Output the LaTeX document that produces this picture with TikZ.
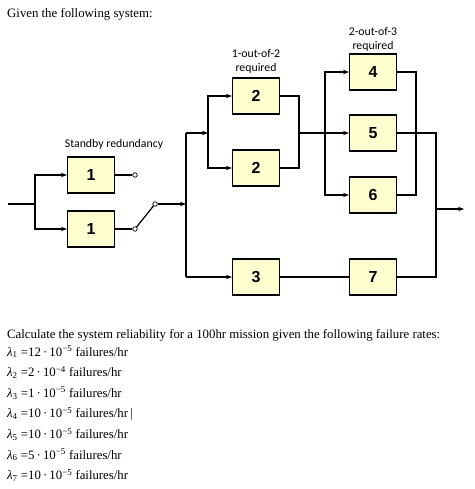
\documentclass[tikz,border=0pt]{standalone}
\usepackage{fontspec}
\setmainfont{Liberation Serif}
\newfontfamily\calfont{Carlito}
\newfontfamily\arialfont{Liberation Sans}
\usetikzlibrary{arrows.meta}
\definecolor{boxfill}{RGB}{255,255,208}
\begin{document}
\begin{tikzpicture}[x=1pt,y=-1pt,
  blk/.style={draw, line width=1.1pt, fill=boxfill, minimum width=47pt, minimum height=36pt, inner sep=0pt, font=\arialfont\bfseries\fontsize{16}{16}\selectfont},
  wire/.style={line width=1.2pt},
  arr/.style={wire, -{Stealth[length=6pt,width=4.5pt]}},
  sw/.style={circle, draw, line width=0.7pt, fill=white, minimum size=4.5pt, inner sep=0pt},
  lbl/.style={font=\calfont\fontsize{11.8}{14}\selectfont, align=center, inner sep=0pt},
  txt/.style={anchor=base west, inner sep=0pt, font=\fontsize{12.8}{14}\selectfont}]
\useasboundingbox (0,0) rectangle (474,489);
% text
\node[txt] (title) at (7,18) {Given the following system:};
\node[txt] (calc) at (7,338) {Calculate the system reliability for a 100hr mission given the following failure rates:};
\node[txt] (r1) at (7,356) {{\itshape λ}\textsubscript{1} =12\,·\,10\textsuperscript{−5} failures/hr};
\node[txt] (r2) at (7,376.6) {{\itshape λ}\textsubscript{2} =2\,·\,10\textsuperscript{−4} failures/hr};
\node[txt] (r3) at (7,397.2) {{\itshape λ}\textsubscript{3} =1\,·\,10\textsuperscript{−5} failures/hr};
\node[txt] (r4) at (7,417.8) {{\itshape λ}\textsubscript{4} =10\,·\,10\textsuperscript{−5} failures/hr\,|};
\node[txt] (r5) at (7,438.4) {{\itshape λ}\textsubscript{5} =10\,·\,10\textsuperscript{−5} failures/hr};
\node[txt] (r6) at (7,459) {{\itshape λ}\textsubscript{6} =5\,·\,10\textsuperscript{−5} failures/hr};
\node[txt] (r7) at (7,479.6) {{\itshape λ}\textsubscript{7} =10\,·\,10\textsuperscript{−5} failures/hr};
% labels
\node[lbl] (sr) at (114,144) {Standby redundancy};
\node[lbl] (l12) at (256,61) {1-out-of-2\\required};
\node[lbl] (l23) at (373,39) {2-out-of-3\\required};
% blocks
\node[blk] (b1a) at (91,175) {1};
\node[blk] (b1b) at (91,229) {1};
\node[blk] (b2a) at (256,96) {2};
\node[blk] (b2b) at (256,168) {2};
\node[blk] (b4) at (373,72) {4};
\node[blk] (b5) at (373,133) {5};
\node[blk] (b6) at (373,195) {6};
\node[blk] (b3) at (256,277) {3};
\node[blk] (b7) at (373,277) {7};
% switch contacts
\node[sw] (c1) at (135,175) {};
\node[sw] (c2) at (135,229) {};
\node[sw] (c3) at (155,204) {};
% coordinates
\coordinate (in) at (8,204);
\coordinate (j1) at (35,204);
\coordinate (bt) at (186,133);
\coordinate (bm) at (186,204);
\coordinate (bb) at (186,277);
\coordinate (j2) at (208,133);
\coordinate (m2) at (299,133);
\coordinate (j3) at (325,133);
\coordinate (m4) at (416,133);
\coordinate (o7) at (436,277);
\coordinate (oj) at (436,209);
\coordinate (out) at (464,209);
% wires
\draw[wire] (in) -- (j1);
\draw[arr] (j1) |- (b1a);
\draw[arr] (j1) |- (b1b);
\draw[wire] (b1a) -- (c1);
\draw[wire] (b1b) -- (c2);
\draw[wire] (c2) -- (c3);
\draw[arr] (c3) -- (bm);
\draw[wire] (bt) -- (bb);
\draw[arr] (bt) -- (j2);
\draw[arr] (j2) |- (b2a);
\draw[arr] (j2) |- (b2b);
\draw[wire] (b2a) -| (m2);
\draw[wire] (b2b) -| (m2);
\draw[arr] (m2) -- (b5);
\draw[arr] (j3) |- (b4);
\draw[arr] (j3) |- (b6);
\draw[wire] (b4) -| (m4);
\draw[wire] (b6) -| (m4);
\draw[wire] (b5) -| (o7) -- (b7);
\draw[arr] (oj) -- (out);
\draw[arr] (bb) -- (b3);
\draw[wire] (b3) -- (b7);
\end{tikzpicture}
\end{document}
